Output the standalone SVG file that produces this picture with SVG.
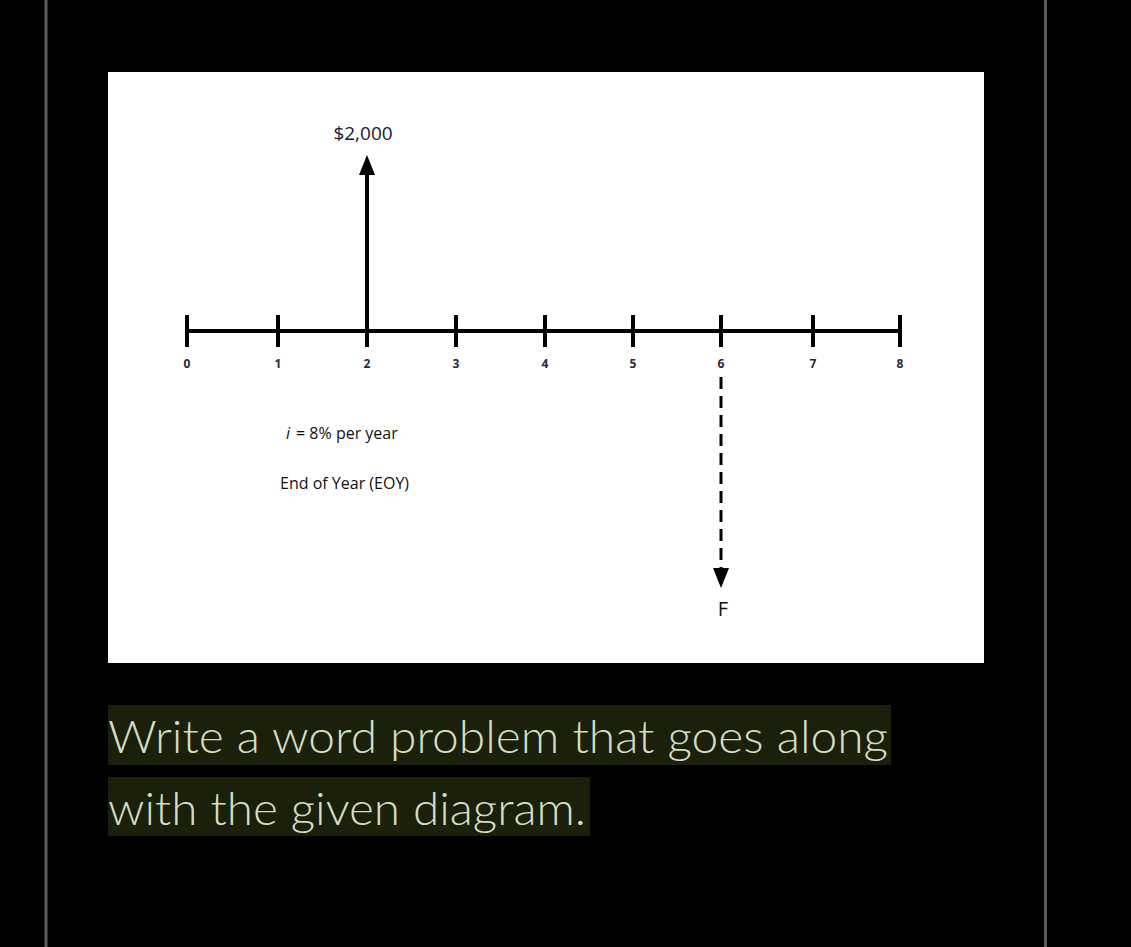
<svg xmlns="http://www.w3.org/2000/svg" width="1131" height="947" viewBox="0 0 1131 947">
<style>
.tick{stroke:#000;stroke-width:4}
.num{font-family:"Open Sans","Liberation Sans",sans-serif;font-size:12px;font-weight:bold;fill:#1f2a3a;text-anchor:middle}
.lbl{font-family:"Open Sans","Liberation Sans",sans-serif;fill:#111}
.big{font-family:Lato,"Liberation Sans",sans-serif;font-weight:300;font-size:46px;fill:#d4dec4}
</style>
<defs>
<marker id="ah" markerWidth="20" markerHeight="16" refX="0" refY="8" orient="auto" markerUnits="userSpaceOnUse" viewBox="0 0 20 16">
<path d="M0,0 L20,8 L0,16 Z" fill="#000"/>
</marker>
</defs>
<rect width="1131" height="947" fill="#000"/>
<rect x="44.5" y="0" width="3" height="947" fill="#5a5a5a"/>
<rect x="1044" y="0" width="3" height="947" fill="#5a5a5a"/>
<rect x="108" y="72" width="876" height="591" fill="#fff"/>
<g id="timeline">
<line x1="187" y1="331" x2="900" y2="331" class="tick"/>
<line x1="187" y1="315" x2="187" y2="347" class="tick"/>
<line x1="278" y1="315" x2="278" y2="347" class="tick"/>
<line x1="367" y1="315" x2="367" y2="347" class="tick"/>
<line x1="456" y1="315" x2="456" y2="347" class="tick"/>
<line x1="545" y1="315" x2="545" y2="347" class="tick"/>
<line x1="633" y1="315" x2="633" y2="347" class="tick"/>
<line x1="721" y1="315" x2="721" y2="347" class="tick"/>
<line x1="813" y1="315" x2="813" y2="347" class="tick"/>
<line x1="900" y1="315" x2="900" y2="347" class="tick"/>
<text class="num" x="187" y="368">0</text>
<text class="num" x="278" y="368">1</text>
<text class="num" x="367" y="368">2</text>
<text class="num" x="456" y="368">3</text>
<text class="num" x="545" y="368">4</text>
<text class="num" x="633" y="368">5</text>
<text class="num" x="721" y="368">6</text>
<text class="num" x="813" y="368">7</text>
<text class="num" x="900" y="368">8</text>
</g>
<g id="connectors">
<line x1="367" y1="331" x2="367" y2="175" stroke="#000" stroke-width="4" marker-end="url(#ah)"/>
<line x1="721" y1="377" x2="721" y2="568" stroke="#000" stroke-width="3" stroke-dasharray="12,7" marker-end="url(#ah)"/>
</g>
<g id="amount">
<text class="lbl" x="363" y="140" text-anchor="middle" style="font-size:19px;fill:#1a2030">$2,000</text>
</g>
<g id="future">
<text class="lbl" x="723" y="616" text-anchor="middle" style="font-size:20px">F</text>
</g>
<g id="notes">
<text class="lbl" x="286" y="439" style="font-size:16px"><tspan font-style="italic">i</tspan><tspan dx="6">= 8% per year</tspan></text>
<text class="lbl" x="280" y="489" style="font-size:16px">End of Year (EOY)</text>
</g>
<g id="caption">
<rect x="108" y="705" width="783" height="60" fill="#1a200a"/>
<rect x="108" y="777" width="482" height="59" fill="#1a200a"/>
<text class="big" x="108" y="753" textLength="780" lengthAdjust="spacingAndGlyphs">Write a word problem that goes along</text>
<text class="big" x="108" y="825" textLength="478" lengthAdjust="spacingAndGlyphs">with the given diagram.</text>
</g>
</svg>
